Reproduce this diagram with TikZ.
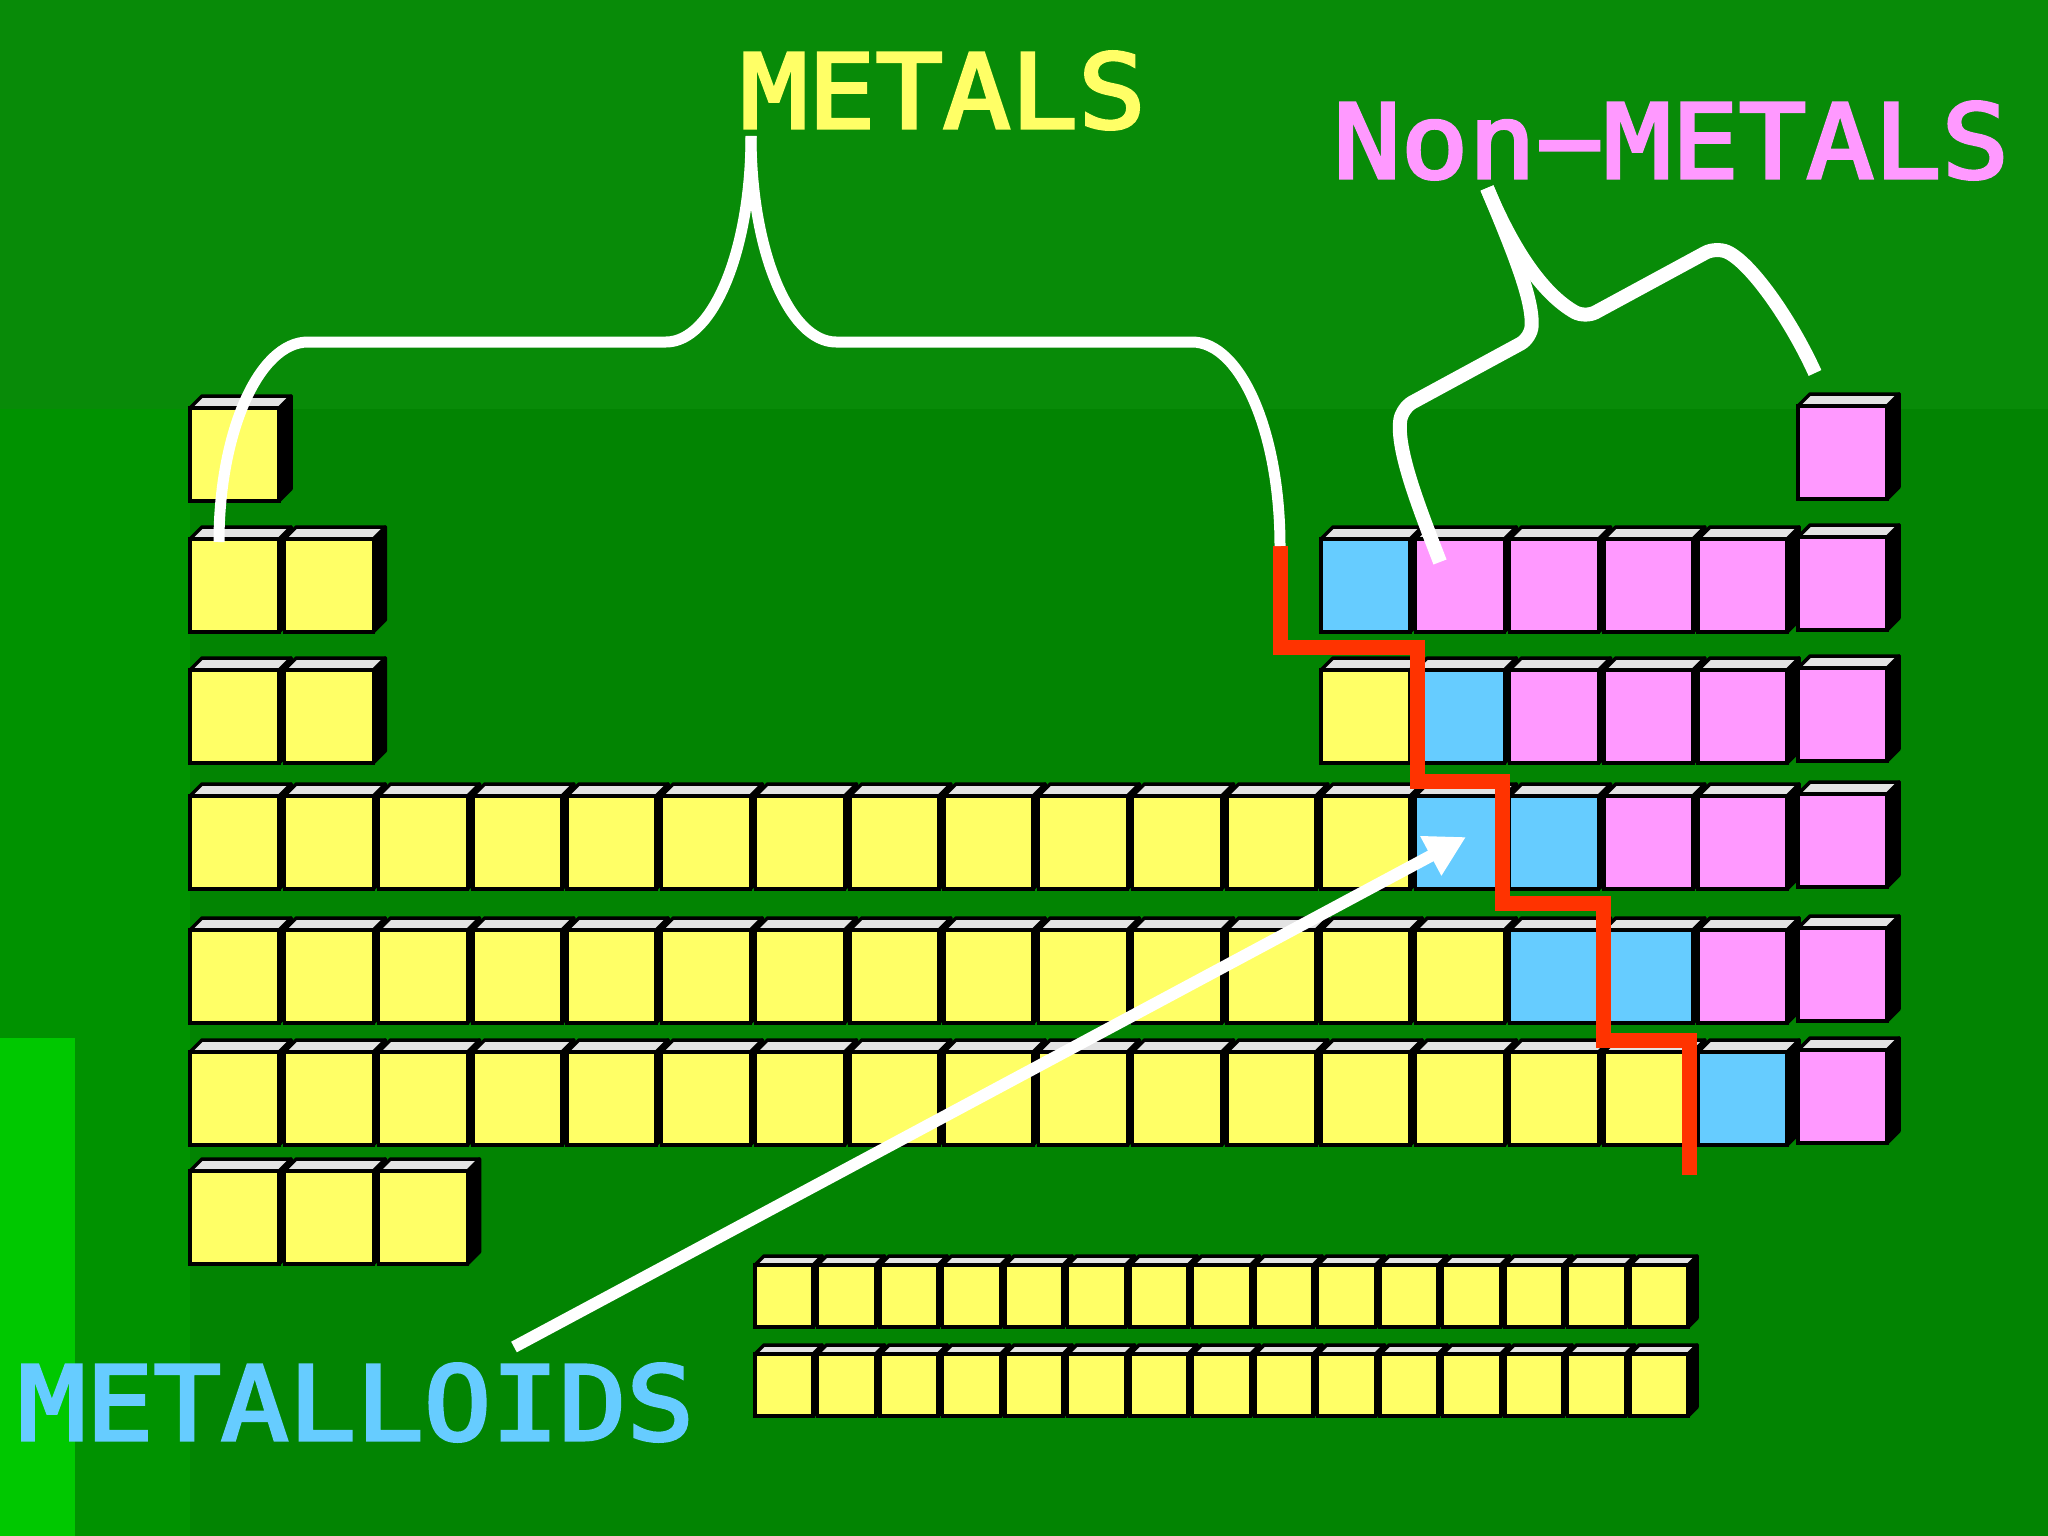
\documentclass[tikz,border=0pt]{standalone}
\usepackage{fontspec}
\newfontfamily\labfont[BoldFont={DejaVu Sans Mono}, BoldFeatures={FakeBold=3}]{DejaVu Sans Mono}
\usetikzlibrary{arrows.meta}
\definecolor{ycell}{HTML}{FFFF66}
\definecolor{bcell}{HTML}{66CCFF}
\definecolor{pcell}{HTML}{FF99FF}
\definecolor{topface}{HTML}{E3E3E3}
\definecolor{redline}{HTML}{FF3300}
\definecolor{bgmain}{RGB}{2,132,2}
\definecolor{bgtop}{RGB}{8,139,8}
\definecolor{bgleft}{RGB}{0,146,0}
\definecolor{bgcorner}{RGB}{0,200,0}
\tikzset{
  cubeedge/.style={draw=black, line width=3.5pt, line join=round},
  cubefront/.style={draw=black, line width=3.5pt, inner sep=0pt, outer sep=0pt, rectangle},
  lab/.style={font={\labfont\bfseries\fontsize{103}{110}\selectfont}, inner sep=0pt, xscale=1.09, anchor=base west},
  bracepath/.style={draw=white, line width=11pt, line cap=butt},
  nonbrace/.style={draw=white, line width=14pt, line cap=butt, rounded corners=12pt},
  zigzag/.style={draw=redline, line width=15pt, line join=miter},
  pointer/.style={draw=white, line width=12pt, -{Triangle[length=40pt,width=42pt]}}
}
\newcommand\cubecell[7]{%
  \pgfmathsetmacro\cxa{#2+#4}%
  \pgfmathsetmacro\cxb{#2+#4+#6}%
  \pgfmathsetmacro\cxd{#2+#6}%
  \pgfmathsetmacro\cya{#3-#6}%
  \pgfmathsetmacro\cyb{#3+#5-#6}%
  \pgfmathsetmacro\cyc{#3+#5}%
  \filldraw[cubeedge, fill=black] (\cxa,#3) -- (\cxb,\cya) -- (\cxb,\cyb) -- (\cxa,\cyc) -- cycle;
  \filldraw[cubeedge, fill=topface] (#2,#3) -- (\cxd,\cya) -- (\cxb,\cya) -- (\cxa,#3) -- cycle;
  \node[cubefront, fill=#7, minimum width=#4pt, minimum height=#5pt, anchor=north west] (#1) at (#2,#3) {};
}
\newcommand\cellrow[3]{%
  \foreach \c/\k in {#3}{%
    \pgfmathsetmacro\cx{ifthenelse(\c==18,1798,190+(\c-1)*94.25)}%
    \pgfmathsetmacro\cy{#2-ifthenelse(\c==18,2,0)}%
    \cubecell{c#1-\c}{\cx}{\cy}{89}{93}{12}{\k}%
  }%
}
\begin{document}
\begin{tikzpicture}[x=1pt, y=-1pt]
\useasboundingbox (0,0) rectangle (2048,1536);
% background
\fill[bgmain] (0,0) rectangle (2048,1536);
\fill[bgtop] (0,0) rectangle (2048,409);
\fill[bgleft] (0,409) rectangle (190,1536);
\fill[bgcorner] (0,1038) rectangle (75,1536);
% main table
\cellrow{1}{408}{1/ycell,18/pcell}
\cellrow{2}{539}{1/ycell,2/ycell,13/bcell,14/pcell,15/pcell,16/pcell,17/pcell,18/pcell}
\cellrow{3}{670}{1/ycell,2/ycell,13/ycell,14/bcell,15/pcell,16/pcell,17/pcell,18/pcell}
\cellrow{4}{796}{1/ycell,2/ycell,3/ycell,4/ycell,5/ycell,6/ycell,7/ycell,8/ycell,9/ycell,10/ycell,11/ycell,12/ycell,13/ycell,14/bcell,15/bcell,16/pcell,17/pcell,18/pcell}
\cellrow{5}{930}{1/ycell,2/ycell,3/ycell,4/ycell,5/ycell,6/ycell,7/ycell,8/ycell,9/ycell,10/ycell,11/ycell,12/ycell,13/ycell,14/ycell,15/bcell,16/bcell,17/pcell,18/pcell}
\cellrow{6}{1052}{1/ycell,2/ycell,3/ycell,4/ycell,5/ycell,6/ycell,7/ycell,8/ycell,9/ycell,10/ycell,11/ycell,12/ycell,13/ycell,14/ycell,15/ycell,16/ycell,17/bcell,18/pcell}
\cellrow{7}{1171}{1/ycell,2/ycell,3/ycell}
% f-block
\foreach \c in {1,...,15}{%
  \pgfmathsetmacro\fx{755+(\c-1)*62.5}%
  \cubecell{fa-\c}{\fx}{1265}{58}{62}{9}{ycell}%
}
\foreach \c in {1,...,15}{%
  \pgfmathsetmacro\fx{755+(\c-1)*62.5}%
  \cubecell{fb-\c}{\fx}{1354}{58}{62}{9}{ycell}%
}
% red staircase
\coordinate (zs) at (1280,546);
\coordinate (ze) at (1689,1175);
\draw[zigzag] (zs) -- (1280,647) -- (1417,647) -- (1417,781) -- (1502,781) -- (1502,903) -- (1603,903) -- (1603,1040) -- (1689,1040) -- (ze);
% METALS brace
\coordinate (mt) at (751,136);
\coordinate (ml) at (219,542);
\coordinate (mr) at (1280,546);
\draw[bracepath] (mt) .. controls (751,250) and (713,342) .. (666,342) -- (308,342) .. controls (259,342) and (219,432) .. (ml);
\draw[bracepath] (mt) .. controls (751,250) and (789,342) .. (836,342) -- (1192,342) .. controls (1241,342) and (1280,433) .. (mr);
% Non-METALS brace
\coordinate (nt) at (1487,188);
\coordinate (nl) at (1440,562);
\coordinate (nr) at (1815,373);
\draw[nonbrace] (nt) .. controls (1515,255) and (1533,300) .. (1531,338) -- (1402,408) .. controls (1396,450) and (1420,510) .. (nl);
\draw[nonbrace] (nt) .. controls (1515,255) and (1545,295) .. (1585,318) -- (1716,247) .. controls (1750,262) and (1790,318) .. (nr);
% METALLOIDS pointer
\coordinate (pa) at (514,1347);
\coordinate (pb) at (1466,837);
\draw[pointer] (pa) -- (pb);
% labels
\node[lab, text=ycell] (metals) at (740,128) {METALS};
\node[lab, text=pcell] (nonmetals) at (1333,178) {Non−METALS};
\node[lab, text=bcell] (metalloids) at (18,1440) {METALLOIDS};
\end{tikzpicture}
\end{document}
